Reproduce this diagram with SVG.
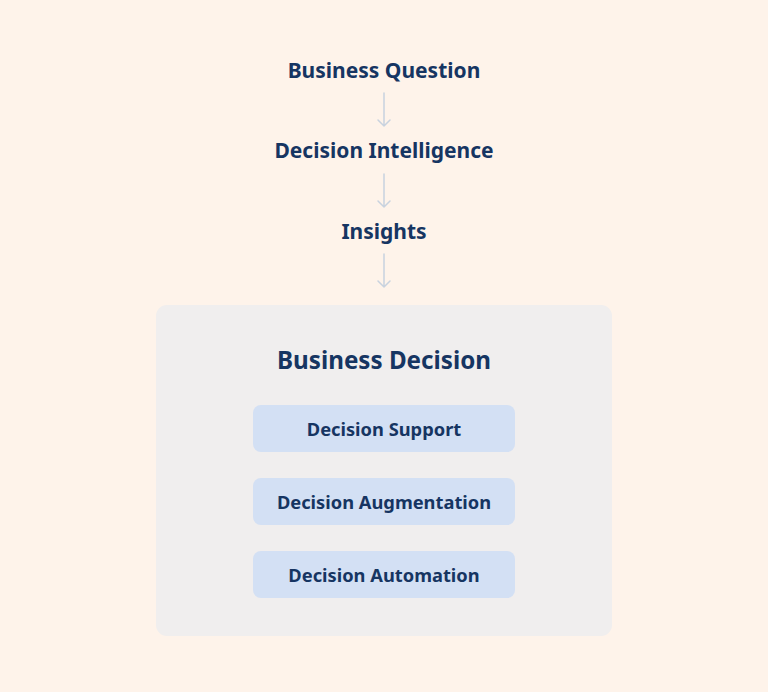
<svg xmlns="http://www.w3.org/2000/svg" width="768" height="692" viewBox="0 0 768 692">
<defs>
<style>
.t{font-family:"Noto Sans","Liberation Sans",sans-serif;font-weight:700;fill:#163562;text-anchor:middle}
.h{font-size:21px}
.hb{font-size:24.2px}
.b{font-size:18.3px}
.pill{fill:#D3E0F4}
.arr{stroke:#C8D2DF;stroke-width:1.5;fill:none;stroke-linecap:round;stroke-linejoin:round}
</style>
</defs>
<rect width="768" height="692" fill="#FEF3EA"/>
<g id="connectors">
<path class="arr" d="M384 93V126M378 120L384 126L390 120"/>
<path class="arr" d="M384 174V207M378 201L384 207L390 201"/>
<path class="arr" d="M384 254V287M378 281L384 287L390 281"/>
</g>
<g id="business-question"><text class="t h" x="384" y="78">Business Question</text></g>
<g id="decision-intelligence"><text class="t h" x="384" y="158">Decision Intelligence</text></g>
<g id="insights"><text class="t h" x="384" y="239">Insights</text></g>
<g id="business-decision">
<rect x="156" y="305" width="456" height="331" rx="11" fill="#F0EEEE"/>
<text class="t hb" x="384" y="369">Business Decision</text>
</g>
<g id="decision-support"><rect class="pill" x="253" y="405" width="262" height="47" rx="8"/><text class="t b" x="384" y="436">Decision Support</text></g>
<g id="decision-augmentation"><rect class="pill" x="253" y="478" width="262" height="47" rx="8"/><text class="t b" x="384" y="509">Decision Augmentation</text></g>
<g id="decision-automation"><rect class="pill" x="253" y="551" width="262" height="47" rx="8"/><text class="t b" x="384" y="582">Decision Automation</text></g>
</svg>
